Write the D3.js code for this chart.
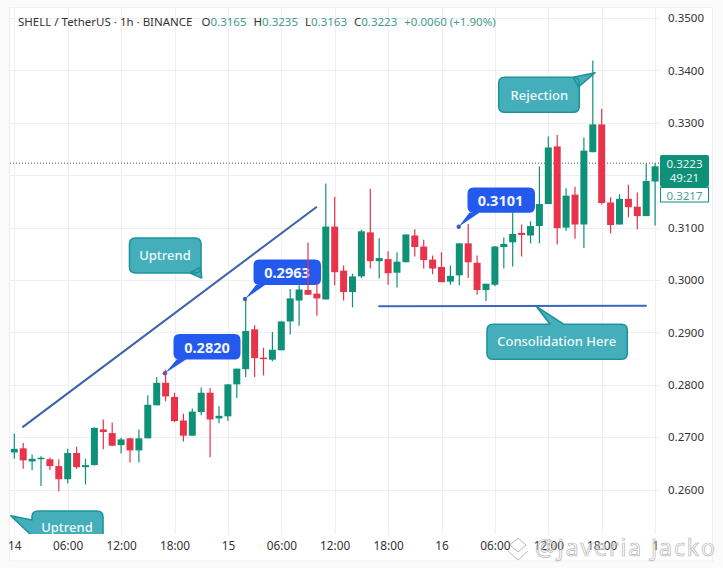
<!DOCTYPE html>
<html><head><meta charset="utf-8">
<script src="https://cdn.jsdelivr.net/npm/d3@7"></script>
<style>html,body{margin:0;padding:0;background:#fbfbfb;overflow:hidden}svg{display:block}text{font-family:"Noto Sans",sans-serif}</style>
</head><body><svg id="c" width="723" height="568"></svg>
<script>
const opens=[.2671,.2679,.2654,.2659,.2658,.2645,.2620,.2670,.2643,.2647,.2715,.2708,.2685,.2698,.2675,.2698,.2761,.2804,.2777,.2732,.2703,.2748,.2785,.2736,.2740,.2801,.2830,.2906,.2852,.2848,.2866,.2921,.2961,.2981,.2974,.2963,.3102,.3018,.2977,.3007,.3091,.3036,.3040,.3014,.3034,.3085,.3064,.3039,.3025,.2997,.3009,.3070,.3033,.2981,.2991,.3063,.3072,.3090,.3085,.3103,.3145,.3255,.3100,.3163,.3106,.3244,.3297,.3148,.3106,.3155,.3140,.3122,.3188];
const highs=[.2707,.2689,.2667,.2664,.2661,.2658,.2678,.2682,.2659,.2719,.2734,.2728,.2699,.2699,.2715,.2780,.2815,.2829,.2785,.2745,.2755,.2795,.2794,.2759,.2801,.2831,.2963,.2914,.2871,.2901,.2921,.2983,.2990,.3071,.2996,.3184,.3159,.3028,.3012,.3096,.3174,.3080,.3055,.3053,.3087,.3097,.3077,.3047,.3053,.3028,.3070,.3107,.3047,.2993,.3065,.3081,.3129,.3106,.3112,.3217,.3274,.3277,.3175,.3178,.3272,.3419,.3327,.3158,.3164,.3182,.3167,.3222,.3223];
const lows=[.2659,.2640,.2637,.2607,.2637,.2597,.2612,.2640,.2610,.2646,.2677,.2683,.2669,.2652,.2652,.2698,.2761,.2769,.2729,.2692,.2703,.2742,.2662,.2727,.2731,.2775,.2815,.2815,.2818,.2845,.2866,.2896,.2913,.2972,.2932,.2963,.2990,.2961,.2948,.3004,.3022,.3003,.2991,.2986,.3034,.3045,.3022,.3011,.2996,.2991,.2990,.3004,.2972,.2960,.2988,.3022,.3026,.3045,.3070,.3070,.3145,.3068,.3094,.3079,.3061,.3244,.3144,.3089,.3106,.3120,.3097,.3122,.3104];
const closes=[.2678,.2656,.2659,.2661,.2645,.2620,.2670,.2643,.2647,.2718,.2710,.2684,.2696,.2675,.2698,.2762,.2804,.2778,.2731,.2703,.2749,.2785,.2734,.2741,.2801,.2831,.2903,.2851,.2849,.2867,.2921,.2965,.2982,.2972,.2965,.3102,.3015,.2977,.3007,.3093,.3036,.3042,.3013,.3035,.3087,.3063,.3038,.3022,.2996,.3008,.3070,.3034,.2981,.2993,.3064,.3069,.3088,.3086,.3103,.3145,.3253,.3099,.3161,.3106,.3247,.3297,.3147,.3105,.3155,.3139,.3122,.3189,.3217];
const gridPrices=[.26,.27,.28,.29,.30,.31,.32,.33,.34,.35];
const labelledPrices=[.26,.27,.28,.29,.30,.31,.33,.34,.35];
const timeTicks=[0,6,12,18,24,30,36,42,48,54,60,66,72];
const timeLabels=["14","06:00","12:00","18:00","15","06:00","12:00","18:00","16","06:00","12:00","18:00","1"];
const uptrendLine=[[0.9,.2719],[34,.3140]];
const consolidationLine=[[40.9,.2950],[71.06,.2951]];
const lastPrice=.3223, bidPrice=.3217;
const header=["SHELL / TetherUS · 1h · BINANCE"];
const ohlcText=[["O","0.3165"],["H","0.3235"],["L","0.3163"],["C","0.3223"]];

const svg=d3.select("#c");
const x=d3.scaleLinear().domain([0,72]).range([14.3,655.1]);
const y=d3.scaleLinear().domain([.26,.35]).range([489.7,18]);
const up="#0f9178",dn="#e8334a",teal="#45aebb",tealS="#1f939c",blue="#2459ee";

svg.append("rect").attr("x",9.5).attr("y",7.5).attr("width",703).attr("height",553.5).attr("fill","#fff").attr("stroke","#efefef");
const defs=svg.append("defs");
defs.append("clipPath").attr("id","plot").append("rect").attr("x",10).attr("y",8).attr("width",650).attr("height",526);

// grid
const gx=svg.append("g").attr("transform","translate(0,534)").call(d3.axisBottom(x).tickValues(timeTicks).tickSize(-526).tickPadding(5).tickFormat((d,i)=>timeLabels[i]));
gx.select(".domain").remove();
gx.selectAll("line").attr("stroke","#eeeff1").attr("shape-rendering","crispEdges");
gx.selectAll("text").attr("fill","#333").attr("font-size",11.8).attr("y",8);
const gy=svg.append("g").attr("transform","translate(660,0)").call(d3.axisLeft(y).tickValues(gridPrices).tickSize(650).tickFormat(""));
gy.select(".domain").remove();
gy.selectAll("line").attr("stroke","#eeeff1").attr("shape-rendering","crispEdges");
const ly=svg.append("g").attr("transform","translate(662,0)").call(d3.axisRight(y).tickValues(labelledPrices).tickSize(0).tickPadding(6).tickFormat(d3.format(".4f")));
ly.select(".domain").remove();
ly.selectAll("text").attr("fill","#333").attr("font-size",11.5);

// last price line
svg.append("line").attr("x1",10).attr("x2",660).attr("y1",y(lastPrice)).attr("y2",y(lastPrice)).attr("stroke","#555").attr("stroke-dasharray","1 2").attr("stroke-width",1);

function bubble(g,b,fill,stroke){
  const {x0,y0,x1,y1,r=6}=b;
  const pts=a=>(a||[]).map(p=>`L${p[0]},${p[1]}`).join("");
  const d=`M${x0+r},${y0}${pts(b.top)}L${x1-r},${y0}Q${x1},${y0} ${x1},${y0+r}${pts(b.right)}L${x1},${y1-r}Q${x1},${y1} ${x1-r},${y1}${pts(b.bottom)}L${x0+r},${y1}Q${x0},${y1} ${x0},${y1-r}${pts(b.left)}L${x0},${y0+r}Q${x0},${y0} ${x0+r},${y0}Z`;
  return g.append("path").attr("d",d).attr("fill",fill).attr("stroke",stroke).attr("stroke-width",stroke==="none"?0:1.6).attr("stroke-linejoin","round");
}
function btext(g,t,cx,cy,size,weight,col){g.append("text").attr("x",cx).attr("y",cy).attr("text-anchor","middle").attr("dominant-baseline","central").attr("font-size",size).attr("font-weight",weight).attr("fill",col).text(t);}

const plot=svg.append("g").attr("clip-path","url(#plot)");

// blue price labels (under the candles)
[
 {t:"0.2820",x0:173.5,y0:334,x1:240.5,y1:359.5,bottom:[[186,359.5],[165,373.3],[176.7,359.5]],cx:207,cy:346.5,dot:[165,373.3]},
 {t:"0.2963",x0:253.5,y0:259.5,x1:321,y1:285,bottom:[[265,285],[245,299],[256,285]],cx:287,cy:272,dot:[245,299]},
 {t:"0.3101",x0:467.5,y0:187.5,x1:535,y1:212.7,bottom:[[479.3,212.7],[458.7,226.7],[469.3,212.7]],cx:500.5,cy:199.5,dot:[458.7,226.7]}
].forEach(b=>{
  bubble(plot,b,blue,"none");
  btext(plot,b.t,b.cx,b.cy,14.5,700,"#f2f5ff");
  plot.append("circle").attr("cx",b.dot[0]).attr("cy",b.dot[1]).attr("r",2.2).attr("fill","#3a62ad");
});

// candles
const idx=d3.range(opens.length);
plot.selectAll("line.w").data(idx).join("line").attr("class","w")
  .attr("x1",i=>x(i)).attr("x2",i=>x(i)).attr("y1",i=>y(highs[i])).attr("y2",i=>y(lows[i]))
  .attr("stroke",i=>closes[i]>=opens[i]?up:dn).attr("stroke-width",1.2);
plot.selectAll("rect.b").data(idx).join("rect").attr("class","b")
  .attr("x",i=>x(i)-3.5).attr("width",7)
  .attr("y",i=>y(Math.max(opens[i],closes[i])))
  .attr("height",i=>Math.max(1.5,Math.abs(y(opens[i])-y(closes[i]))))
  .attr("fill",i=>closes[i]>=opens[i]?up:dn);

// trend lines
const lineGen=d3.line().x(d=>x(d[0])).y(d=>y(d[1]));
svg.append("path").attr("d",lineGen(uptrendLine)).attr("stroke","#3a62ad").attr("stroke-width",2).attr("fill","none");
svg.append("path").attr("d",lineGen(consolidationLine)).attr("stroke","#3b68bd").attr("stroke-width",2).attr("fill","none");

// teal callouts
bubble(plot,{x0:129.5,y0:238,x1:201,y1:273,right:[[201,270],[201.7,278],[190,273]]},teal,tealS);
btext(plot,"Uptrend",165,255,13,500,"#eefafa");
bubble(plot,{x0:498.7,y0:77.3,x1:579.3,y1:112.3,top:[[573,77.3],[595,72.7],[578.5,87]]},teal,tealS);
btext(plot,"Rejection",539.3,94.5,13,500,"#eefafa");
bubble(plot,{x0:487,y0:324.3,x1:627.3,y1:359.3,top:[[550,324.3],[536.7,306.7],[564,324.3]]},teal,tealS);
btext(plot,"Consolidation Here",556.7,341,13,500,"#eefafa");
bubble(plot,{x0:32,y0:511,x1:103,y1:546,left:[[30,534],[10.7,515.7],[32,520]]},teal,tealS);
btext(plot,"Uptrend",67,527,13,500,"#eefafa");

// header
const h=svg.append("text").attr("x",18).attr("y",26).attr("font-size",11.5).attr("fill","#333");
h.append("tspan").text(header[0]);
ohlcText.forEach((p,i)=>{
  h.append("tspan").attr("dx",i?7:9).text(p[0]);
  h.append("tspan").attr("fill","#3f9c8b").text(p[1]);
});
h.append("tspan").attr("dx",7).attr("fill","#3f9c8b").text("+0.0060 (+1.90%)");

// price tags
svg.append("rect").attr("x",660).attr("y",155).attr("width",49).attr("height",32).attr("rx",2).attr("fill",up);
svg.append("text").attr("x",684.5).attr("y",163.5).attr("dominant-baseline","central").attr("text-anchor","middle").attr("font-size",11.5).attr("fill","#e9f6f3").text(d3.format(".4f")(lastPrice));
svg.append("text").attr("x",684.5).attr("y",177).attr("dominant-baseline","central").attr("text-anchor","middle").attr("font-size",11.5).attr("fill","#e9f6f3").text("49:21");
svg.append("rect").attr("x",660.5).attr("y",187.5).attr("width",48).attr("height",14.5).attr("fill","#fff").attr("stroke",up);
svg.append("text").attr("x",684.5).attr("y",195).attr("dominant-baseline","central").attr("text-anchor","middle").attr("font-size",11.5).attr("fill","#4d9d90").text(d3.format(".4f")(bidPrice));

// watermark
const wm=svg.append("g").attr("fill","none").attr("stroke","#b9b9b9").attr("stroke-width",1);
wm.append("path").attr("d","M518,538L526,545L518,552L510,545Z");
wm.append("path").attr("d","M508,551L518,560L528,551");
svg.append("text").attr("x",535).attr("y",556).attr("font-size",23).attr("fill","rgba(255,255,255,.35)").attr("stroke","#b5b5b5").attr("stroke-width",.7).style("letter-spacing","1.9px").text("@Javeria Jacko");
</script></body></html>
